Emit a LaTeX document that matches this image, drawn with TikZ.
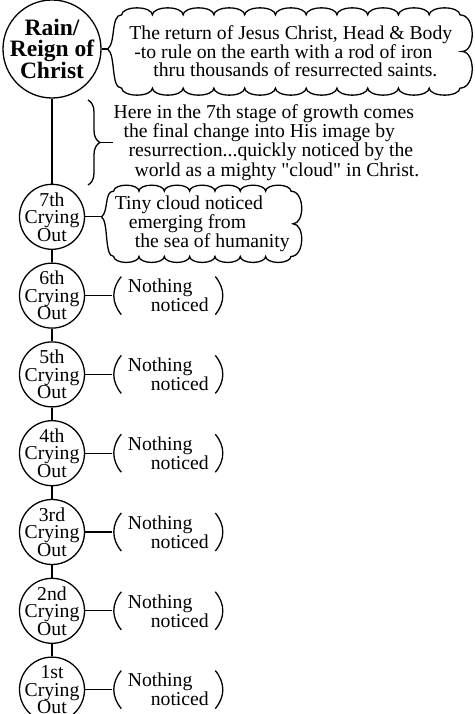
\documentclass[tikz,border=0pt]{standalone}
\usepackage{fontspec}
\setmainfont{Liberation Serif}
\usetikzlibrary{positioning, decorations.pathreplacing}

% scalloped cloud round a text node: node, bumps, side inset, bump height, node the tip points at
\newcommand{\cloudframe}[5]{%
  \pgfpointanchor{#1}{north west}\pgfgetlastxy{\cxa}{\cya}%
  \pgfpointanchor{#1}{south east}\pgfgetlastxy{\cxb}{\cyb}%
  \pgfpointanchor{#5}{center}\pgfgetlastxy{\ctx}{\cty}%
  \pgfmathsetmacro{\cxa}{\cxa}\pgfmathsetmacro{\cya}{\cya-#4}%
  \pgfmathsetmacro{\cxb}{\cxb}\pgfmathsetmacro{\cyb}{\cyb+#4}%
  \pgfmathsetmacro{\cty}{\cty}%
  \pgfmathsetmacro{\cym}{(\cya+\cyb)/2}%
  \pgfmathsetmacro{\cw}{(\cxb-\cxa-2*#3)/#2}%
  \draw[cloudline] (\cxa+#3,\cya)
    \foreach \i in {1,...,#2} {arc[start angle=180, end angle=0, x radius=\cw/2, y radius=#4]}
    .. controls (\cxb+2,\cya) and (\cxb+2,\cym) .. (\cxb-#3+2,\cym)
    .. controls (\cxb+2,\cym) and (\cxb+2,\cyb) .. (\cxb-#3,\cyb)
    \foreach \i in {1,...,#2} {arc[start angle=0, end angle=-180, x radius=\cw/2, y radius=#4]}
    .. controls (\cxa+0.2*#3,\cyb) and (\cxa+0.6*#3,\cty-6) .. (\cxa,\cty)
    .. controls (\cxa+0.6*#3,\cty+6) and (\cxa+0.2*#3,\cya) .. cycle;
}

\begin{document}
\begin{tikzpicture}[
  x=1pt, y=1pt, line width=1.3pt,
  reign/.style={circle, draw, minimum size=98pt, inner sep=-3.5pt, align=center, font=\bfseries\fontsize{23.5}{21}\selectfont},
  crying/.style={circle, draw, minimum size=65pt, inner sep=-4.6pt, align=center, font=\fontsize{19.7}{17.5}\selectfont},
  cloudtext/.style={inner sep=0pt, align=left, font=\fontsize{19.7}{18}\selectfont},
  note/.style={inner sep=0pt, align=left, font=\fontsize{19.7}{19.3}\selectfont},
  nothing/.style={inner sep=0pt, minimum width=112pt, minimum height=40pt, align=left, font=\fontsize{19.7}{17}\selectfont,
    path picture={
      \draw[line width=1.3pt] ([xshift=9pt,yshift=-1pt]path picture bounding box.north west) .. controls +(-10,-12) and +(-10,12) .. ([xshift=9pt,yshift=1pt]path picture bounding box.south west);
      \draw[line width=1.3pt] ([xshift=-9pt,yshift=-1pt]path picture bounding box.north east) .. controls +(10,-12) and +(10,12) .. ([xshift=-9pt,yshift=1pt]path picture bounding box.south east);
    }},
  cloudline/.style={line width=1.3pt},
  bracket/.style={decorate, decoration={brace, amplitude=12pt}}
]
  \useasboundingbox (0,0) rectangle (474,-714);

  \node[reign] (rain) at (52,-49) {Rain/\\Reign of\\Christ};
  \node[cloudtext, minimum width=365pt, minimum height=86pt, right=6pt of rain, yshift=-2.5pt] (ret)
    {The return of Jesus Christ, Head \& Body\\\hspace*{5pt}-to rule on the earth with a rod of iron\\\hspace*{24pt}thru thousands of resurrected saints.};

  \coordinate (bracetop) at (88,-100);
  \coordinate (bracebot) at (88,-185);
  \coordinate (bracetip) at (100,-142.5);
  \node[note, anchor=west] (growth) at (113,-142.5)
    {Here in the 7th stage of growth comes\\\hspace*{10pt}the final change into His image by\\\hspace*{15pt}resurrection...quickly noticed by the\\\hspace*{21pt}world as a mighty \textquotedbl cloud\textquotedbl{} in Christ.};

  \node[crying, below=85pt of rain] (s7) {7th\\Crying\\Out};
  \node[cloudtext, minimum width=200pt, minimum height=76pt, right=16.5pt of s7, yshift=-7pt] (tiny)
    {Tiny cloud noticed\\\hspace*{14pt}emerging from\\\hspace*{20pt}the sea of humanity};

  \node[crying, below=12.5pt of s7] (s6) {6th\\Crying\\Out};
  \node[crying, below=12.5pt of s6] (s5) {5th\\Crying\\Out};
  \node[crying, below=12.5pt of s5] (s4) {4th\\Crying\\Out};
  \node[crying, below=12.5pt of s4] (s3) {3rd\\Crying\\Out};
  \node[crying, below=12.5pt of s3] (s2) {2nd\\Crying\\Out};
  \node[crying, below=12.5pt of s2] (s1) {1st\\Crying\\Out};

  \node[nothing, right=26.5pt of s6] (n6) {Nothing\\\hspace*{23pt}noticed};
  \node[nothing, right=26.5pt of s5] (n5) {Nothing\\\hspace*{23pt}noticed};
  \node[nothing, right=26.5pt of s4] (n4) {Nothing\\\hspace*{23pt}noticed};
  \node[nothing, right=26.5pt of s3] (n3) {Nothing\\\hspace*{23pt}noticed};
  \node[nothing, right=26.5pt of s2] (n2) {Nothing\\\hspace*{23pt}noticed};
  \node[nothing, right=26.5pt of s1] (n1) {Nothing\\\hspace*{23pt}noticed};

  % spine
  \draw (rain) -- (s7);
  \draw (s7) -- (s6);
  \draw (s6) -- (s5);
  \draw (s5) -- (s4);
  \draw (s4) -- (s3);
  \draw (s3) -- (s2);
  \draw (s2) -- (s1);

  % side links
  \draw (rain.east) -- (rain.east -| ret.west);
  \draw (s7.east) -- (s7.east -| tiny.west);
  \draw (s6) -- (n6);
  \draw (s5) -- (n5);
  \draw (s4) -- (n4);
  \draw (s3) -- (n3);
  \draw (s2) -- (n2);
  \draw (s1) -- (n1);

  \draw[bracket] (bracetop) -- (bracebot);
  \draw (bracetip) -- (growth);

  \cloudframe{ret}{11}{14}{7}{rain}
  \cloudframe{tiny}{7}{12}{6}{s7}
\end{tikzpicture}
\end{document}
